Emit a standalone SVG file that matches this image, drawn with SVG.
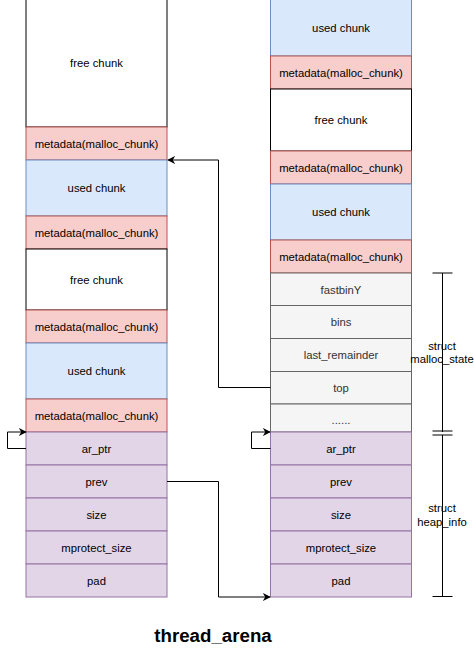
<svg xmlns="http://www.w3.org/2000/svg" width="474" height="649" viewBox="0 0 474 649">
<defs>
<style>
text{font-family:"Liberation Sans",Arial,sans-serif;font-size:11.3px;text-anchor:middle;dominant-baseline:central;fill:#000}
.free{fill:#fff;stroke:#000}
.meta{fill:#f8cecc;stroke:#b85450}
.used{fill:#dae8fc;stroke:#6c8ebf}
.heap{fill:#e1d5e7;stroke:#9673a6}
.gray{fill:#f5f5f5;stroke:#666}
.g{fill:#333}
.ln{fill:none;stroke:#000;stroke-width:1}
.title{font-size:18.7px;font-weight:bold}
</style>
<marker id="arr" viewBox="0 0 10 10" refX="9" refY="5" markerWidth="8" markerHeight="8" orient="auto" markerUnits="userSpaceOnUse">
<path d="M0,0 L10,5 L0,10 L3,5 Z" fill="#000"/>
</marker>
</defs>
<g id="left">
<g id="l-free1"><rect class="free" x="26" y="-1" width="141" height="128"/><text x="96.5" y="63">free chunk</text></g>
<g id="l-meta1"><rect class="meta" x="26" y="127" width="141" height="33"/><text x="96.5" y="143.5">metadata(malloc_chunk)</text></g>
<g id="l-used1"><rect class="used" x="26" y="160" width="141" height="56"/><text x="96.5" y="188">used chunk</text></g>
<g id="l-meta2"><rect class="meta" x="26" y="216" width="141" height="33"/><text x="96.5" y="232.5">metadata(malloc_chunk)</text></g>
<g id="l-free2"><rect class="free" x="26" y="249" width="141" height="61"/><text x="96.5" y="279.5">free chunk</text></g>
<g id="l-meta3"><rect class="meta" x="26" y="310" width="141" height="33"/><text x="96.5" y="326.5">metadata(malloc_chunk)</text></g>
<g id="l-used2"><rect class="used" x="26" y="343" width="141" height="56"/><text x="96.5" y="371">used chunk</text></g>
<g id="l-meta4"><rect class="meta" x="26" y="399" width="141" height="33"/><text x="96.5" y="415.5">metadata(malloc_chunk)</text></g>
<g id="l-arptr"><rect class="heap" x="26" y="432" width="141" height="33"/><text x="96.5" y="448.5">ar_ptr</text></g>
<g id="l-prev"><rect class="heap" x="26" y="465" width="141" height="33"/><text x="96.5" y="481.5">prev</text></g>
<g id="l-size"><rect class="heap" x="26" y="498" width="141" height="33"/><text x="96.5" y="514.5">size</text></g>
<g id="l-mprot"><rect class="heap" x="26" y="531" width="141" height="33"/><text x="96.5" y="547.5">mprotect_size</text></g>
<g id="l-pad"><rect class="heap" x="26" y="564" width="141" height="33"/><text x="96.5" y="580.5">pad</text></g>
</g>
<g id="right">
<g id="r-used1"><rect class="used" x="270.5" y="-1" width="141" height="57"/><text x="341" y="28">used chunk</text></g>
<g id="r-meta1"><rect class="meta" x="270.5" y="56" width="141" height="33"/><text x="341" y="72.5">metadata(malloc_chunk)</text></g>
<g id="r-free"><rect class="free" x="270.5" y="89" width="141" height="62"/><text x="341" y="120">free chunk</text></g>
<g id="r-meta2"><rect class="meta" x="270.5" y="151" width="141" height="33"/><text x="341" y="167.5">metadata(malloc_chunk)</text></g>
<g id="r-used2"><rect class="used" x="270.5" y="184" width="141" height="56"/><text x="341" y="212">used chunk</text></g>
<g id="r-meta3"><rect class="meta" x="270.5" y="240" width="141" height="33"/><text x="341" y="256.5">metadata(malloc_chunk)</text></g>
<g id="r-fastbin"><rect class="gray" x="270.5" y="273" width="141" height="32.5"/><text class="g" x="341" y="289.5">fastbinY</text></g>
<g id="r-bins"><rect class="gray" x="270.5" y="305.5" width="141" height="33"/><text class="g" x="341" y="322">bins</text></g>
<g id="r-last"><rect class="gray" x="270.5" y="338.5" width="141" height="33"/><text class="g" x="341" y="355">last_remainder</text></g>
<g id="r-top"><rect class="gray" x="270.5" y="371.5" width="141" height="32.5"/><text class="g" x="341" y="387.5">top</text></g>
<g id="r-dots"><rect class="gray" x="270.5" y="404" width="141" height="28"/><text class="g" x="341" y="420">......</text></g>
<g id="r-arptr"><rect class="heap" x="270.5" y="432" width="141" height="33"/><text x="341" y="448.5">ar_ptr</text></g>
<g id="r-prev"><rect class="heap" x="270.5" y="465" width="141" height="33"/><text x="341" y="481.5">prev</text></g>
<g id="r-size"><rect class="heap" x="270.5" y="498" width="141" height="33"/><text x="341" y="514.5">size</text></g>
<g id="r-mprot"><rect class="heap" x="270.5" y="531" width="141" height="33"/><text x="341" y="547.5">mprotect_size</text></g>
<g id="r-pad"><rect class="heap" x="270.5" y="564" width="141" height="33"/><text x="341" y="580.5">pad</text></g>
</g>
<g id="brackets">
<path class="ln" d="M442.5,273 V432 M432.5,273 H452.5 M432.5,431 H452.5 M442.5,435 V596.5 M432.5,435 H452.5 M432.5,596.5 H452.5"/>
<text x="442" y="346">struct</text>
<text x="442" y="359">malloc_state</text>
<text x="442" y="508">struct</text>
<text x="442" y="522">heap_info</text>
</g>
<g id="connectors">
<path class="ln" d="M270.5,387.5 H218.5 V160 H168" marker-end="url(#arr)"/>
<path class="ln" d="M167,481.5 H218.5 V597 H270" marker-end="url(#arr)"/>
<path class="ln" d="M26,448.5 H7.5 V432 H26" marker-end="url(#arr)"/>
<path class="ln" d="M270.5,448.5 H251.5 V432 H270" marker-end="url(#arr)"/>
</g>
<text class="title" x="213" y="635">thread_arena</text>
</svg>
